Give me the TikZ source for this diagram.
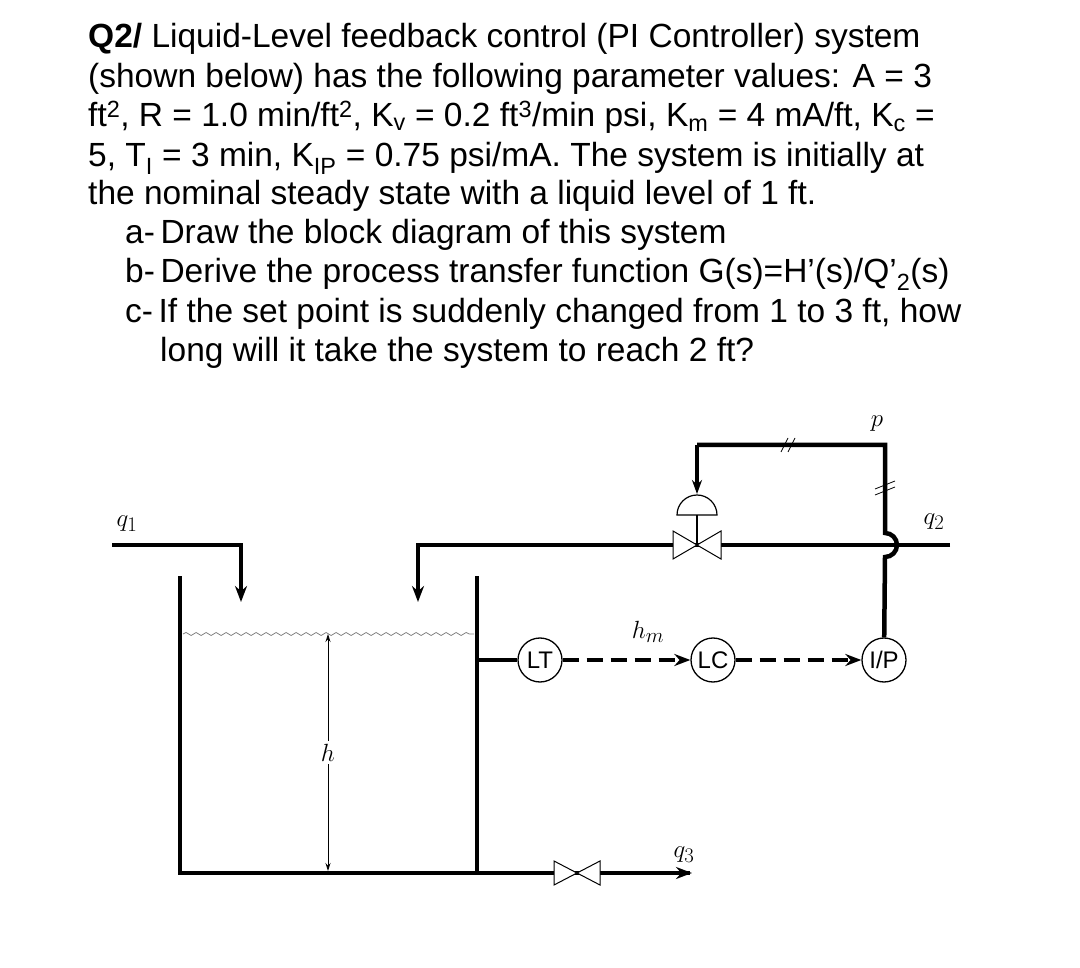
\documentclass[tikz,border=0pt]{standalone}
\usepackage{fontspec}
\setmainfont{Liberation Sans}
\usetikzlibrary{positioning, arrows.meta, decorations.pathmorphing}

\begin{document}
\begin{tikzpicture}[x=1pt, y=-1pt, >=stealth,
    txt/.style={anchor=base west, inner sep=0pt, font=\fontsize{33.5}{40}\selectfont},
    pipe/.style={line width=4.5pt},
    inst/.style={draw, circle, line width=1.3pt, minimum size=44pt, inner sep=0pt, font=\fontsize{24}{24}\selectfont},
    sig/.style={line width=4.5pt, dash pattern=on 16pt off 8pt, -{Stealth[length=16pt, width=12pt, open]}},
    lbl/.style={inner sep=0pt, font=\fontsize{30}{30}\selectfont}]
    \useasboundingbox (0,0) rectangle (1080,968);
                        % question text
                        \node[txt] (t1) at (88,48) {\textbf{Q2/} Liquid-Level feedback control (PI Controller) system};
                        \node[txt] (t2) at (88,88) {(shown below) has the following parameter values: A = 3};
                        \node[txt] (t3) at (88,127) {ft\textsuperscript{2}, R = 1.0 min/ft\textsuperscript{2}, K\textsubscript{v} = 0.2 ft\textsuperscript{3}/min psi, K\textsubscript{m} = 4 mA/ft, K\textsubscript{c} =};
                        \node[txt] (t4) at (88,167) {5, T\textsubscript{I} = 3 min, K\textsubscript{IP} = 0.75 psi/mA. The system is initially at};
                        \node[txt] (t5) at (88,205) {the nominal steady state with a liquid level of 1 ft.};
                        \node[txt] (ta) at (125,244) {a-\,Draw the block diagram of this system};
                        \node[txt] (tb) at (125,283) {b-\,Derive the process transfer function G(s)=H'(s)/Q'\textsubscript{2}(s)};
                        \node[txt] (tc) at (125,323) {c-\,If the set point is suddenly changed from 1 to 3 ft, how};
                        \node[txt] (td) at (160,362) {long will it take the system to reach 2 ft?};

                        % instruments
                        \node[inst] (LT) at (540,660) {LT};
                        \node[inst] (LC) at (713,660) {LC};
                        \node[inst] (IP) at (884,660) {I/P};
                        \coordinate (wall) at (477,660);
                        \coordinate (top) at (697,445);
                        \coordinate (corner) at (885,445);

                        % tank
                        \draw[pipe] (180,576) -- (180,873) -- (690,873);
                        \draw[pipe] (477,576) -- (477,873);
                        \draw[pipe,-{Stealth[length=16pt,width=12pt]}] (600,873) -- (692,873);
                        \draw[gray, line width=0.8pt, decorate, decoration={snake, segment length=10pt, amplitude=1.5pt}] (183,634) -- (474,634);
                        \draw[{Stealth[length=8pt,width=5pt]}-{Stealth[length=8pt,width=5pt]}, line width=0.8pt] (328,634) -- node[fill=white, lbl, inner sep=3pt] (h) {$h$} (328,871);

                        % inlets
                        \draw[pipe,-{Stealth[length=16pt,width=12pt]}] (112,545) -- (241,545) -- (241,602);
                        \draw[pipe,-{Stealth[length=16pt,width=12pt]}] (950,545) -- (418,545) -- (418,602);

                        % valves
                        \draw[fill=white, line width=1pt] (673,531) -- (697,545) -- (673,559) -- cycle (721,531) -- (697,545) -- (721,559) -- cycle;
                        \draw[fill=white, line width=1pt] (554,861) -- (577,873) -- (554,885) -- cycle (600,861) -- (577,873) -- (600,885) -- cycle;
                        \draw[line width=1.2pt] (697,515) -- (697,545);
                        \draw[line width=1.2pt] (677,515) arc[start angle=180, end angle=360, radius=20] -- cycle;

                        % signals
                        \draw[pipe] (wall) -- (LT);
                        \draw[sig] (LT) -- (LC);
                        \draw[sig] (LC) -- (IP);
                        \draw[pipe] (IP) -- (885,557) arc[start angle=90, end angle=-90, radius=12] -- (corner) -- (top);
                        \draw[pipe,-{Stealth[length=14pt,width=10pt]}] (top) -- (697,494);
                        \draw[line width=0.8pt] (781,452) -- (788,438) (788,452) -- (795,438);
                        \draw[line width=0.8pt] (875,489) -- (895,481) (875,495) -- (895,487);

                        % labels
                        \node[lbl] (q1) at (127,524) {$q_1$};
                        \node[lbl] (q2) at (934,522) {$q_2$};
                        \node[lbl] (q3) at (684,855) {$q_3$};
                        \node[lbl] (p) at (877,424) {$p$};
                        \node[lbl] (hm) at (648,632) {$h_m$};
\end{tikzpicture}
\end{document}
